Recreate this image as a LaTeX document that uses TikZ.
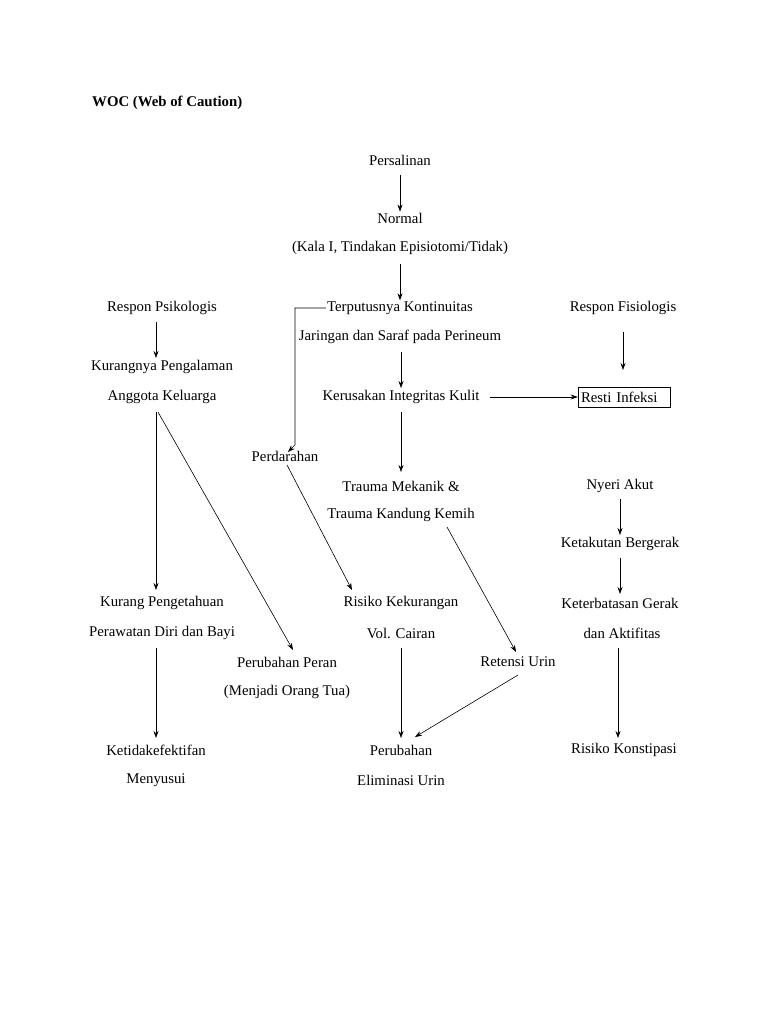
\documentclass[tikz,border=0pt]{standalone}
\usepackage{fontspec}
\setmainfont{Liberation Serif}
\usetikzlibrary{arrows.meta}
\begin{document}
\begin{tikzpicture}[x=1pt,y=-1pt,
  lbl/.style={inner sep=1pt,font=\fontsize{14.8}{16}\selectfont},
  arr/.style={-{Stealth[length=7pt,width=5pt]},line width=0.6pt}]
\useasboundingbox (0,0) rectangle (768,1024);
\node[lbl,anchor=west,font=\fontsize{14.8}{16}\selectfont\bfseries] (title) at (91,103) {WOC (Web of Caution)};
\node[lbl] (pers) at (400,160) {Persalinan};
\node[lbl] (norm) at (400,218) {Normal};
\node[lbl] (kala) at (400,248) {(Kala I, Tindakan Episiotomi/Tidak)};
\node[lbl] (rpsi) at (162,308) {Respon Psikologis};
\node[lbl] (terp) at (400,308) {Terputusnya Kontinuitas};
\node[lbl] (jar) at (400,337) {Jaringan dan Saraf pada Perineum};
\node[lbl] (rfis) at (623,308) {Respon Fisiologis};
\node[lbl] (kurp) at (162,367) {Kurangnya Pengalaman};
\node[lbl] (ang) at (162,397) {Anggota Keluarga};
\node[lbl] (ker) at (401,397) {Kerusakan Integritas Kulit};
\node[draw,line width=0.6pt,inner sep=2pt,minimum width=92pt,minimum height=20pt,text width=86pt,font=\fontsize{14.8}{16}\selectfont] (resti) at (624,397) {Resti Infeksi};
\coordinate (rfisend) at (623,370);
\node[lbl] (perd) at (285,456) {Perdarahan};
\node[lbl] (tm) at (401,486) {Trauma Mekanik \&};
\node[lbl] (tk) at (401,515) {Trauma Kandung Kemih};
\node[lbl] (nyeri) at (620,486) {Nyeri Akut};
\node[lbl] (ket) at (620,544) {Ketakutan Bergerak};
\node[lbl] (kpeng) at (162,603) {Kurang Pengetahuan};
\node[lbl] (pdb) at (162,633) {Perawatan Diri dan Bayi};
\node[lbl] (rk) at (401,603) {Risiko Kekurangan};
\node[lbl] (vol) at (401,633) {Vol. Cairan};
\node[lbl] (kg) at (620,603) {Keterbatasan Gerak};
\node[lbl] (da) at (622,633) {dan Aktifitas};
\node[lbl] (pp) at (287,662) {Perubahan Peran};
\node[lbl] (mot) at (287,692) {(Menjadi Orang Tua)};
\node[lbl] (ret) at (518,662) {Retensi Urin};
\node[lbl] (kti) at (156,750) {Ketidakefektifan};
\node[lbl] (meny) at (156,780) {Menyusui};
\node[lbl] (peru) at (401,750) {Perubahan};
\node[lbl] (elim) at (401,780) {Eliminasi Urin};
\node[lbl] (rkon) at (624,750) {Risiko Konstipasi};

\draw[arr] (400,175) -- (norm.north);
\draw[arr] (400,264) -- (terp.north);
\draw[arr] (156,322) -- (156,358);
\draw[arr] (623,332) -- (rfisend);
\draw[arr] (401,352) -- (401,388);
\draw[arr] (490,397) -- (resti.west);
\draw[arr] (terp.west) -- (295,308) -- (295,445) -- (288,452);
\draw[arr] (401,412) -- (401,472);
\draw[arr] (287,465) -- (352,590);
\draw[arr] (156,412) -- (156,590);
\draw[arr] (158,412) -- (293,650);
\draw[arr] (447,527) -- (516,652);
\draw[arr] (620,499) -- (620,535);
\draw[arr] (620,558) -- (620,594);
\draw[arr] (156,648) -- (156,738);
\draw[arr] (401,648) -- (401,738);
\draw[arr] (518,675) -- (415,737);
\draw[arr] (618,648) -- (618,738);
\end{tikzpicture}
\end{document}
